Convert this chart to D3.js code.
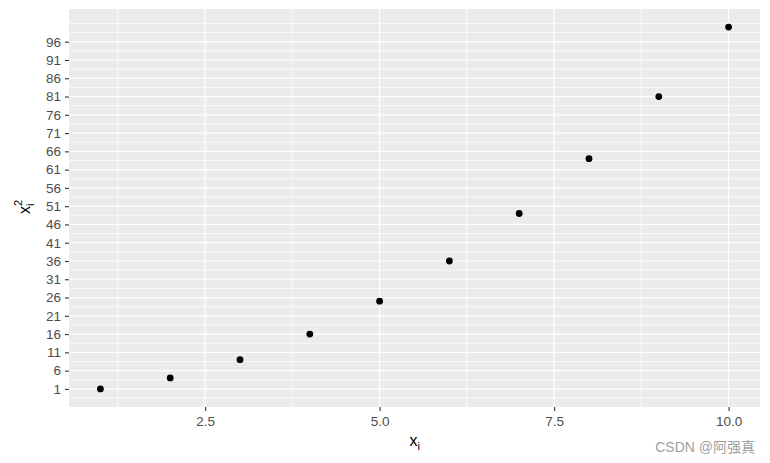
<!DOCTYPE html>
<html><head><meta charset="utf-8">
<script src="https://cdn.jsdelivr.net/npm/d3@7"></script>
<style>body{margin:0;background:#fff}svg{display:block}text{font-family:"Liberation Sans",Arial,sans-serif}</style>
</head><body>
<script>
const xs = [1,2,3,4,5,6,7,8,9,10];
const ys = [1,4,9,16,25,36,49,64,81,100];
const xTicks = [2.5,5.0,7.5,10.0];
const xTickLabels = ["2.5","5.0","7.5","10.0"];
const yTicks = [1,6,11,16,21,26,31,36,41,46,51,56,61,66,71,76,81,86,91,96];
const xMinor = [1.25,3.75,6.25,8.75];
const yMinor = [-1.5,3.5,8.5,13.5,18.5,23.5,28.5,33.5,38.5,43.5,48.5,53.5,58.5,63.5,68.5,73.5,78.5,83.5,88.5,93.5,98.5,101];

const W=770,H=463;
const L=69,R=760,T=9,B=407;
const svg=d3.select("body").append("svg").attr("width",W).attr("height",H);
const x=d3.scaleLinear().domain([0.55,10.45]).range([L,R]);
const y=d3.scaleLinear().domain([-3.95,104.95]).range([B,T]);

svg.append("rect").attr("x",L).attr("y",T).attr("width",R-L).attr("height",B-T).attr("fill","#EBEBEB");
const g=svg.append("g");
g.selectAll(".ymin").data(yMinor).enter().append("line")
 .attr("x1",L).attr("x2",R).attr("y1",d=>y(d)).attr("y2",d=>y(d)).attr("stroke","#fff").attr("stroke-width",0.7);
g.selectAll(".xmin").data(xMinor).enter().append("line")
 .attr("y1",T).attr("y2",B).attr("x1",d=>x(d)).attr("x2",d=>x(d)).attr("stroke","#fff").attr("stroke-width",0.7);
g.selectAll(".ymaj").data(yTicks).enter().append("line")
 .attr("x1",L).attr("x2",R).attr("y1",d=>y(d)).attr("y2",d=>y(d)).attr("stroke","#fff").attr("stroke-width",1.2);
g.selectAll(".xmaj").data(xTicks).enter().append("line")
 .attr("y1",T).attr("y2",B).attr("x1",d=>x(d)).attr("x2",d=>x(d)).attr("stroke","#fff").attr("stroke-width",1.2);

// axes
const xa=svg.append("g").attr("transform",`translate(0,${B})`)
 .call(d3.axisBottom(x).tickValues(xTicks).tickFormat((d,i)=>xTickLabels[i]).tickSize(4).tickPadding(5));
const ya=svg.append("g").attr("transform",`translate(${L},0)`)
 .call(d3.axisLeft(y).tickValues(yTicks).tickSize(4).tickPadding(4));
[xa,ya].forEach(a=>{
  a.select(".domain").remove();
  a.selectAll(".tick line").attr("stroke","#333").attr("stroke-width",1.1);
  a.selectAll(".tick text").attr("fill","#4D4D4D").style("font-size","13.5px").style("font-family","'Liberation Sans',Arial,sans-serif");
});

// points
svg.append("g").selectAll("circle").data(xs).enter().append("circle")
 .attr("cx",d=>x(d)).attr("cy",(d,i)=>y(ys[i])).attr("r",3.4).attr("fill","#000");

// x title
const xt=svg.append("text").attr("x",x(5.5)-5).attr("y",446).attr("font-size",16).attr("fill","#000");
xt.append("tspan").text("x");
xt.append("tspan").attr("dy",4).attr("font-size",11).text("i");

// y title
const yt=svg.append("text").attr("transform",`translate(30,${y(50.5)+6}) rotate(-90)`).attr("font-size",16).attr("fill","#000");
yt.append("tspan").text("x");
yt.append("tspan").attr("dy",-8).attr("font-size",11).text("2");
yt.append("tspan").attr("dx",-6).attr("dy",12).attr("font-size",11).text("i");

// watermark
svg.append("text").attr("x",755).attr("y",452).attr("text-anchor","end").attr("font-size",14).attr("fill","#A0A0A0")
 .style("font-family","'Liberation Sans','Noto Sans CJK SC',sans-serif").text("CSDN @阿强真");
</script>
</body></html>
